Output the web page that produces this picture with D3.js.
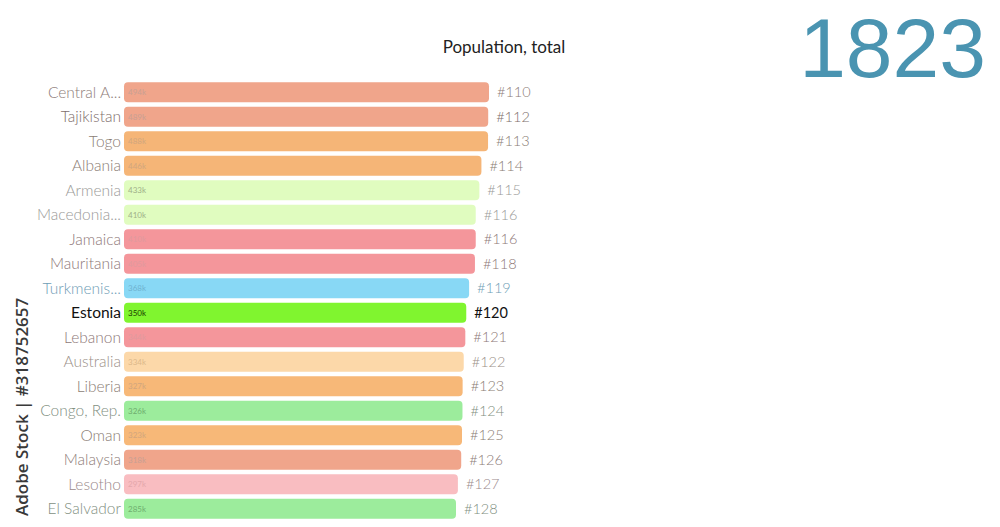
<!DOCTYPE html>
<html><head><meta charset="utf-8">
<script src="https://cdn.jsdelivr.net/npm/d3@7"></script>
<style>
html,body{margin:0;padding:0;background:#fff;}
svg{display:block;}
</style></head>
<body>
<svg id="chart" width="1000" height="527"></svg>
<script>
// ---- data ----
const year = "1823";
const title = "Population, total";
const countries = ["Central A...","Tajikistan","Togo","Albania","Armenia","Macedonia...","Jamaica","Mauritania","Turkmenis...","Estonia","Lebanon","Australia","Liberia","Congo, Rep.","Oman","Malaysia","Lesotho","El Salvador"];
const populations = [494000,489000,488000,446000,433000,410000,410000,405000,368000,350000,344000,334000,327000,326000,323000,318000,297000,285000];
const ranks = [110,112,113,114,115,116,116,118,119,120,121,122,123,124,125,126,127,128];
const highlight = "Estonia";

// ---- styles ----
const barColors = ["#f0a58b","#f0a58b","#f5b577","#f5b577","#e0fcbf","#e0fcbf","#f4969b","#f4969b","#88d8f5","#80f52f","#f4969b","#fcd8a9","#f7b878","#9cec9c","#f7b878","#f0a58b","#f9bdc1","#9cec9c"];
const textColors = ["#8d7c78","#7e6e6b","#8a7d74","#8a7d74","#9a9a98","#9a9a98","#8e7878","#8e7878","#6f9db5","#111111","#8e7878","#9b9088","#8a7d74","#7f8f7f","#8a7d74","#8d7c78","#9a8a8c","#7f8f7f"];
const valueColors = ["#c9a093","#c9a093","#d1a67e","#d1a67e","#9fb089","#9fb089","#e09a9e","#e09a9e","#6fb3d1","#1a3a00","#e09a9e","#dcb88a","#d1a67e","#6fae6f","#d1a67e","#c9a093","#e4a7ab","#6fae6f"];

const svg = d3.select("#chart");
const barX = 124;

const y = d3.scaleBand()
  .domain(countries.map((d,i)=>i))
  .range([81, 520])
  .paddingInner(0.18)
  .paddingOuter(0.05);

const w = d3.scaleLinear()
  .domain([0, d3.max(populations)])
  .range([287, 365]);

const fmt = v => Math.round(v/1000) + "k";

const rows = svg.append("g").selectAll("g")
  .data(countries.map((c,i)=>({c, v:populations[i], r:ranks[i], i})))
  .join("g")
  .attr("transform", d => `translate(0,${y(d.i)})`);

rows.append("rect")
  .attr("x", barX)
  .attr("y", 0)
  .attr("width", d => w(d.v))
  .attr("height", y.bandwidth())
  .attr("rx", 4).attr("ry", 4)
  .attr("fill", d => barColors[d.i]);

rows.append("text")
  .attr("x", barX - 3)
  .attr("y", y.bandwidth()/2)
  .attr("dy", "0.36em")
  .attr("text-anchor", "end")
  .attr("font-family", "Lato, 'Open Sans', sans-serif")
  .attr("font-weight", d => d.c === highlight ? 400 : 300)
  .attr("font-size", 15.5)
  .attr("fill", d => textColors[d.i])
  .text(d => d.c);

rows.append("text")
  .attr("x", barX + 4)
  .attr("y", y.bandwidth()/2)
  .attr("dy", "0.36em")
  .attr("font-family", "Lato, 'Open Sans', sans-serif")
  .attr("font-size", 8)
  .attr("fill", d => valueColors[d.i])
  .text(d => fmt(d.v));

rows.append("text")
  .attr("x", d => barX + w(d.v) + 8)
  .attr("y", y.bandwidth()/2)
  .attr("dy", "0.36em")
  .attr("font-family", "Lato, 'Open Sans', sans-serif")
  .attr("font-weight", d => d.c === highlight ? 400 : 300)
  .attr("font-size", 14.5)
  .attr("fill", d => textColors[d.i])
  .text(d => "#" + d.r);

svg.append("text")
  .attr("x", 504).attr("y", 53)
  .attr("text-anchor", "middle")
  .attr("font-family", "Lato, 'Open Sans', sans-serif")
  .attr("font-size", 17)
  .attr("fill", "#222")
  .text(title);

svg.append("text")
  .attr("x", 986).attr("y", 77)
  .attr("text-anchor", "end")
  .attr("font-family", "'Liberation Sans', Arial, sans-serif")
  .attr("font-weight", 400)
  .attr("font-size", 84)
  .attr("fill", "#4a94b1")
  .text(year);

svg.append("text")
  .attr("transform", "translate(28,516) rotate(-90)")
  .attr("font-family", "'Open Sans', sans-serif")
  .attr("font-weight", 600)
  .attr("font-size", 17)
  .attr("fill", "#3a3a3a")
  .text("Adobe Stock | #318752657");
</script>
</body></html>
